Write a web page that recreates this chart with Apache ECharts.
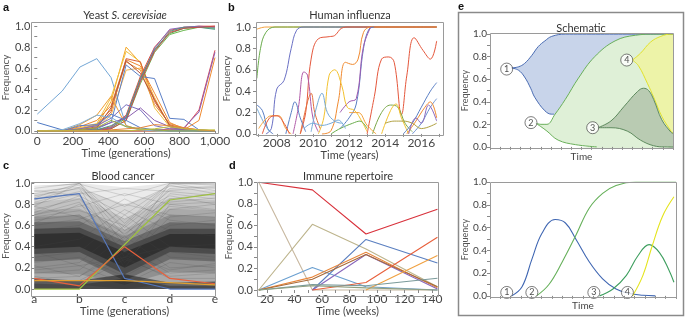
<!DOCTYPE html>
<html>
<head>
<meta charset="utf-8">
<script src="https://cdn.jsdelivr.net/npm/echarts@6/dist/echarts.min.js"></script>
<style>
html,body{margin:0;padding:0;background:#fff}
#main{width:685px;height:318px}
</style>
</head>
<body>
<div id="main"></div>
<script>
// ---- a: yeast ----
const yeastGens = [0, 140, 240, 335, 415, 500, 580, 660, 745, 825, 910, 1000];
const yeastFreqs = [
  [0.16,0.38,0.61,0.69,0.51,0.05,0.01,0,0,0,0,0],
  [0.08,0.01,0,0,0,0,0,0,0,0,0,0],
  [0,0,0.02,0.05,0.28,0.8,0.65,0.3,0.05,0.01,0,0],
  [0,0,0.03,0.07,0.32,0.76,0.66,0.22,0.04,0.02,0,0],
  [0,0,0.04,0.1,0.24,0.68,0.62,0.36,0.08,0.02,0.01,0],
  [0,0,0.01,0.04,0.18,0.69,0.66,0.28,0.06,0.02,0,0],
  [0,0,0,0.03,0.15,0.58,0.6,0.32,0.04,0.01,0,0],
  [0,0,0.02,0.06,0.2,0.66,0.58,0.25,0.07,0.03,0.01,0],
  [0,0,0,0.02,0.08,0.63,0.52,0.5,0.12,0.11,0.01,0],
  [0,0,0.01,0.03,0.22,0.67,0.55,0.3,0.05,0.01,0,0],
  [0,0,0,0.01,0.03,0.12,0.5,0.78,0.93,0.98,0.99,0.98],
  [0,0,0,0,0.02,0.1,0.45,0.75,0.92,0.96,0.99,0.99],
  [0,0,0,0.01,0.04,0.15,0.52,0.8,0.96,0.99,1.0,1.0],
  [0,0,0,0,0.03,0.14,0.48,0.79,0.97,0.99,1.0,0.99],
  [0,0,0,0.01,0.05,0.13,0.5,0.77,0.95,0.99,0.99,0.97],
  [0,0,0,0,0.02,0.1,0.47,0.76,0.94,0.98,0.99,1.0],
  [0,0,0,0,0,0,0,0,0.02,0.02,0.2,0.77],
  [0,0,0,0,0,0,0,0.01,0.01,0.03,0.18,0.75],
  [0,0,0,0,0,0,0,0,0.01,0.01,0.1,0.7],
  [0,0,0.06,0.15,0.33,0.05,0.01,0,0,0,0,0],
  [0,0,0.02,0.05,0.12,0.25,0.2,0.05,0.02,0.01,0,0],
  [0,0,0,0.03,0.08,0.12,0.22,0.1,0.04,0.01,0,0],
  [0,0.01,0.07,0.15,0.13,0.04,0.01,0,0,0,0,0],
  [0,0,0.05,0.06,0.16,0.1,0.03,0.01,0,0,0,0],
  [0,0,0.01,0.03,0.1,0.04,0.02,0.01,0,0,0,0],
  [0,0,0,0,0.01,0.02,0.03,0.06,0.05,0.03,0.01,0],
  [0,0,0,0,0,0,0.01,0.02,0.04,0.02,0.01,0.01]
];
const yeastColors = ['#74a7d6','#4e79c4','#f5a623','#f0c040','#f08a30','#d9603b','#f7b54a','#e8923a',
  '#5b7fc7','#b5533c','#5aaa4a','#6ab84f','#e05040','#8866bb','#4e9a8a','#c94a4a','#d94a5a','#9060b0',
  '#f08a30','#f0a030','#7a6fc0','#8a5fb0','#7fb0d8','#5b7fc7','#9ab040','#e8863a','#c0c040'];

// ---- b: influenza ----
const fluLines = [
  [[2006.9,0.98],[2007.4,1],[2016.85,1]],
  [[2006.9,0.52],[2007.1,0.8],[2007.4,0.95],[2007.9,1],[2016.85,1]],
  [[2007.4,0],[2007.7,0.05],[2008,0.42],[2008.4,0.5],[2008.8,0.8],[2009.1,0.97],[2009.5,1],[2016.85,1]],
  [[2009.3,0],[2009.6,0.2],[2009.9,0.7],[2010.3,0.89],[2010.9,0.91],[2011.2,0.92],[2011.6,0.99],[2012,1],[2016.85,1]],
  [[2010.5,0],[2011,0.03],[2011.4,0.3],[2011.8,0.67],[2012.2,0.65],[2012.5,0.7],[2012.8,0.95],[2013.2,1],[2016.85,1]],
  [[2011.5,0.05],[2012,0.15],[2012.4,0.28],[2012.8,0.8],[2013.1,0.98],[2013.4,1]],
  [[2011.5,0.2],[2012,0.3],[2012.4,0.33],[2012.8,0.82],[2013.2,1]],
  [[2010.3,0],[2010.6,0.15],[2010.9,0.55],[2011.2,0.6],[2011.6,0.45],[2011.9,0.25],[2012.3,0.22],[2012.7,0.12],[2013,0.02]],
  [[2013,0],[2013.4,0.35],[2013.8,0.7],[2014.2,0.72],[2014.5,0.67],[2014.9,0.18],[2015.2,0.55],[2015.6,0.9],[2016.1,0.78],[2016.5,0.7],[2016.85,0.87]],
  [[2008.9,0],[2009.2,0.25],[2009.5,0.58],[2009.7,0.55],[2010,0.15],[2010.3,0.02]],
  [[2009.3,0],[2009.7,0.3],[2009.9,0.38],[2010.1,0.2],[2010.4,0.05]],
  [[2009.9,0.02],[2010.2,0.25],[2010.5,0.38],[2010.8,0.2],[2011.2,0.12],[2011.6,0.1]],
  [[2008.5,0],[2008.8,0.2],[2009,0.3],[2009.3,0.15],[2009.6,0.02]],
  [[2006.9,0.27],[2007.2,0.22],[2007.5,0.05],[2007.8,0]],
  [[2006.9,0.24],[2007.3,0.1],[2007.6,0.02]],
  [[2007,0.05],[2007.3,0.12],[2007.7,0.17],[2008.1,0.17],[2008.5,0.05],[2008.8,0]],
  [[2007.2,0],[2007.6,0.15],[2008,0.17],[2008.4,0.1],[2008.7,0]],
  [[2013.3,0],[2013.8,0.2],[2014.3,0.27],[2014.7,0.25],[2015.1,0.1],[2015.5,0.02]],
  [[2013.8,0],[2014.3,0.22],[2014.6,0.28],[2014.9,0.15],[2015.3,0]],
  [[2015,0],[2015.5,0.1],[2016,0.25],[2016.5,0.4],[2016.85,0.48]],
  [[2015.5,0],[2016,0.1],[2016.5,0.25],[2016.85,0.33]],
  [[2015.2,0],[2015.7,0.12],[2016.2,0.25],[2016.5,0.3],[2016.85,0.15]],
  [[2015.3,0],[2015.7,0.15],[2016,0.1],[2016.4,0.27],[2016.85,0.12]],
  [[2011,0],[2011.5,0.05],[2012.2,0.1],[2012.6,0.12],[2013,0.05]],
  [[2012,0.2],[2012.5,0.2],[2013,0.08],[2013.5,0]],
  [[2009.5,0.05],[2010,0.1],[2010.5,0.08],[2011,0.1],[2011.4,0.13],[2011.8,0.05]],
  [[2014,0.1],[2014.5,0.12],[2015,0.12],[2015.5,0.1],[2016,0.05],[2016.85,0.1]]
];
const fluColors = ['#f3a03a','#6aac4c','#6a70c4','#e4573c','#f08a30','#5a7fc4','#a05ab0','#f2c230',
  '#e4573c','#b05aa8','#e4703c','#74a9d8','#5a7fc4','#5a7fc4','#74a9d8','#f3a03a','#e4573c','#7aa84a',
  '#f2c230','#5a7fc4','#6a8fd0','#f08a30','#8e6bbd','#6aac4c','#f3a03a','#74a9d8','#b0a040'];

// ---- c: blood cancer ----
const cancerTimes = ['a','b','c','d','e'];
const cancerClones = [
  [0.85,0.9,0.1,0.0,0.0],
  [0.0,0.0,0.42,0.84,0.9],
  [0.1,0.03,0.4,0.1,0.05],
  [0.08,0.08,0.08,0.06,0.04]
];
const cancerColors = ['#5577bb','#9ec040','#e8603c','#e0a030'];
// density bands of the grey clone cloud: [low, high, opacity]
const cloudBand1 = [[0,0,0,0,0],               [0.96,1.0,0.96,1.0,1.0],    0.08];
const cloudBand2 = [[0,0,0,0,0],               [0.9,0.95,0.8,0.95,0.93],   0.08];
const cloudBand3 = [[0,0,0,0,0],               [0.82,0.86,0.66,0.86,0.84], 0.1];
const cloudBand4 = [[0.05,0.04,0,0.05,0.05],   [0.74,0.76,0.56,0.76,0.74], 0.12];
const cloudBand5 = [[0.15,0.14,0.04,0.16,0.15],[0.68,0.7,0.5,0.7,0.68],    0.15];
const cloudBand6 = [[0.26,0.28,0.08,0.28,0.26],[0.63,0.64,0.45,0.63,0.62], 0.25];
const cloudBand7 = [[0.33,0.35,0.14,0.35,0.33],[0.57,0.58,0.4,0.57,0.57],  0.3];
const cloudBand8 = [[0.38,0.4,0.2,0.4,0.38],   [0.52,0.53,0.35,0.52,0.52], 0.35];
const cloudBand9 = [[0,0,0,0,0],               [0.1,0.08,0.14,0.06,0.07],  0.45];
const cloudBand10 = [[0,0,0,0,0],              [0.05,0.04,0.1,0.03,0.03],  0.3];
const cloudLines = [
  [0.95,1.0,0.62,1.0,0.98],[0.9,0.98,0.5,0.95,0.97],[0.82,0.92,0.7,0.99,1.0],[0.75,0.85,0.45,0.9,0.85],
  [0.7,0.78,0.9,0.8,0.75],[0.65,0.7,0.35,0.75,0.8],[0.6,0.66,0.8,0.7,0.68],[0.88,0.95,0.3,0.6,0.65],
  [0.78,1.0,0.55,0.85,0.9],[0.2,0.25,0.6,0.3,0.28],[0.15,0.18,0.5,0.2,0.22],[0.25,0.3,0.12,0.35,0.3],
  [0.18,0.22,0.05,0.25,0.2],[0.8,0.9,0.95,0.92,0.88],[0.55,0.6,0.85,0.65,0.6],[0.92,0.96,0.78,0.97,0.95],
  [0.7,0.82,0.25,0.68,0.72],[0.3,0.35,0.7,0.4,0.35],[0.1,0.12,0.4,0.15,0.18],[0.05,0.08,0.3,0.1,0.1],
  [0.86,1.0,0.4,1.0,0.93],[0.68,0.74,0.6,0.98,0.9],[0.93,0.88,0.2,0.8,0.82],[0.4,0.47,0.75,0.55,0.5],
  [0.97,0.99,0.88,1.0,0.99],[0.84,0.96,0.58,0.93,0.96],[0.72,0.88,0.66,0.88,0.8],[0.62,0.8,0.52,0.82,0.86],
  [0.22,0.12,0.35,0.18,0.24],[0.12,0.05,0.28,0.12,0.15],[0.35,0.22,0.3,0.4,0.42],[0.78,0.68,0.48,0.78,0.74]
];

// ---- d: immune repertoire ----
const immuneWeeks = [14, 53, 92, 144];
const immuneFreqs = [
  [1.0,0.93,0.52,0.75],
  [1.0,0.0,0.0,0.0],
  [0,0.61,0.38,0.03],
  [0,0.21,0.03,0.0],
  [null,0,0.47,0.25],
  [0,0.12,0.35,0.02],
  [null,0,0.33,0.01],
  [0,0.1,0.33,0.03],
  [null,0,0.07,0.49],
  [null,null,0,0.32],
  [0,0.05,0.04,0.11],
  [0,0.04,0.02,0.0]
];
const immuneColors = ['#d8303a','#c8b8a0','#bdb48c','#6a9fd0','#5a7fc0','#e8863a','#8866bb','#a86a3a',
  '#e8603c','#f0a040','#7a9a9a','#90a080'];

// ---- e: schematic (time in 0..18) ----
const schemBlueTopX = [2.1, 2.8, 3.4, 4.1, 4.75, 5.4, 6.07, 7.4, 18];
const schemBlueTop  = [0.7, 0.71, 0.74, 0.81, 0.89, 0.94, 0.98, 1.0, 1.0];
const schemBlueLowX = [2.1, 2.8, 3.4, 4.0, 4.4, 5.4, 6.07, 6.3];
const schemBlueLow  = [0.7, 0.68, 0.62, 0.52, 0.44, 0.32, 0.29, 0.29];
const schemGreenTopX = [4.5, 5.0, 5.6, 6.4, 7.4, 8.7, 10.3, 12.3, 14.3, 16.3, 18];
const schemGreenTop  = [0.21, 0.2, 0.2, 0.29, 0.42, 0.61, 0.8, 0.94, 0.99, 1.0, 1.0];
const schemGreenLowX = [4.5, 5.0, 5.6, 6.7, 8.4, 10.5];
const schemGreenLow  = [0.21, 0.18, 0.14, 0.06, 0.02, 0.0];
const schemDarkTopX = [10.6, 11.9, 13.2, 14.5, 15.1, 15.6, 16.1, 16.9, 17.8, 18];
const schemDarkTop  = [0.17, 0.23, 0.36, 0.49, 0.52, 0.5, 0.42, 0.24, 0.13, 0.12];
const schemDarkLowX = [10.6, 11.9, 13.5, 14.8, 16.1, 17.2, 18];
const schemDarkLow  = [0.17, 0.17, 0.14, 0.06, 0.01, 0.0, 0.0];
const schemYellowTopX = [14, 14.8, 15.8, 16.8, 17.8, 18];
const schemYellowTop  = [0.77, 0.83, 0.93, 0.98, 1.0, 1.0];
const schemYellowLowX = [14, 14.6, 15.5, 16.1, 16.9, 17.8, 18];
const schemYellowLow  = [0.77, 0.72, 0.56, 0.44, 0.27, 0.14, 0.12];
const schemNodes = [[1.64,0.69,'1'],[4.03,0.215,'2'],[10.1,0.17,'3'],[13.45,0.77,'4']];

const clone1X = [2.1, 3.1, 4.05, 5.03, 6.3, 7.3, 8.3, 9.6, 10.9, 12.2, 13.5, 14.8, 16];
const clone1  = [0, 0.08, 0.32, 0.55, 0.67, 0.64, 0.5, 0.3, 0.15, 0.06, 0.02, 0.005, 0];
const clone2X = [4.5, 5.7, 7.0, 8.3, 9.6, 10.9, 12.2, 14.1, 16, 18];
const clone2  = [0, 0.1, 0.3, 0.53, 0.77, 0.9, 0.97, 1.0, 1.0, 1.0];
const clone3X = [10.6, 11.9, 13.2, 14.3, 15.4, 16.4, 17.3, 17.8];
const clone3  = [0, 0.06, 0.18, 0.35, 0.45, 0.38, 0.23, 0.12];
const clone4X = [13.8, 14.8, 15.7, 16.7, 17.8];
const clone4  = [0, 0.18, 0.44, 0.7, 0.87];
const freqNodes = [[1.62,0.03,'1'],[4.05,0.03,'2'],[10.05,0.03,'3'],[13.3,0.03,'4']];

const freqTicks = [0, 0.2, 0.4, 0.6, 0.8, 1.0];
const freqMinor = [0,0.1,0.2,0.3,0.4,0.5,0.6,0.7,0.8,0.9,1.0];

// ---- layout ----
const FONT = 'Lato';
const SMOOTH = 0.4;
const boxes = [
  [31, 22, 187, 111],   // a
  [256, 22, 187, 113],  // b
  [31, 182, 184, 114],  // c
  [257, 182, 181, 114], // d
  [490, 33, 183, 115],  // e top
  [490, 182, 186, 115]  // e bottom
];

function zip(xs, ys) {
  const out = [];
  ys.forEach((v, i) => { if (v !== null) out.push([xs[i], v]); });
  return out;
}
function line(gi, data, color, width, extra) {
  return Object.assign({
    type: 'line', xAxisIndex: gi, yAxisIndex: gi, data: data,
    symbol: 'none', silent: true, animation: false,
    lineStyle: { color: color, width: width }
  }, extra || {});
}
function fillUnder(gi, xs, ys, color) {
  return line(gi, zip(xs, ys), color, 0, {
    smooth: SMOOTH,
    lineStyle: { width: 0, opacity: 0 },
    areaStyle: { color: color, opacity: 1, origin: 'start' }
  });
}
function freqAxis(gi, min, max, fs, margin, nameGap) {
  return {
    type: 'value', gridIndex: gi, min: min, max: max, z: 10,
    name: 'Frequency', nameLocation: 'middle', nameGap: nameGap,
    nameTextStyle: { fontSize: fs, color: '#555', fontFamily: FONT },
    axisLine: { show: false },
    axisTick: { show: true, length: 3, customValues: freqMinor, lineStyle: { color: '#888' } },
    axisLabel: { customValues: freqTicks, formatter: v => v.toFixed(1), fontSize: fs + 1, color: '#444', margin: margin, fontFamily: FONT },
    splitLine: { show: false }
  };
}
function timeAxis(gi, min, max, ticks, labels, fmt, name, nameGap, fs) {
  return {
    type: 'value', gridIndex: gi, min: min, max: max, z: 10,
    name: name, nameLocation: 'middle', nameGap: nameGap,
    nameTextStyle: { fontSize: fs, color: '#444', fontFamily: FONT },
    axisLine: { show: false },
    axisTick: { show: true, length: 3, customValues: ticks, lineStyle: { color: '#888' } },
    axisLabel: { show: labels.length > 0, customValues: labels, formatter: fmt, fontSize: fs + 1, color: '#444', margin: 2, fontFamily: FONT },
    splitLine: { show: false }
  };
}

const series = [];
// a
yeastFreqs.forEach((row, i) => series.push(line(0, zip(yeastGens, row), yeastColors[i], 1)));
// b
fluLines.forEach((pts, i) => series.push(line(1, pts, fluColors[i], 1, { smooth: SMOOTH })));
// c cloud bands (stacked: transparent base + filled band)
[cloudBand1, cloudBand2, cloudBand3, cloudBand4, cloudBand5, cloudBand6, cloudBand7, cloudBand8, cloudBand9, cloudBand10]
  .forEach((b, k) => {
    const key = 'cloud' + k;
    series.push(line(2, b[0], '#000', 0, { stack: key, lineStyle: { width: 0, opacity: 0 } }));
    series.push(line(2, b[1].map((v, i) => +(v - b[0][i]).toFixed(3)), '#000', 0, {
      stack: key, lineStyle: { width: 0, opacity: 0 },
      areaStyle: { color: 'rgba(0,0,0,' + b[2] + ')', opacity: 1 }
    }));
  });
cloudLines.forEach(row => series.push(line(2, row, 'rgba(70,70,70,0.3)', 0.6)));
cancerClones.forEach((row, i) => series.push(line(2, row, cancerColors[i], 1.2)));
// d
immuneFreqs.forEach((row, i) => series.push(line(3, zip(immuneWeeks, row), immuneColors[i], 1.1)));
// e top: painted regions
series.push(fillUnder(4, schemBlueTopX, schemBlueTop, '#c8d4ea'));
series.push(fillUnder(4, [1.9].concat(schemBlueLowX), [0.7].concat(schemBlueLow), '#ffffff'));
series.push(fillUnder(4, schemGreenTopX, schemGreenTop, '#dff0d7'));
series.push(fillUnder(4, [4.2].concat(schemGreenLowX), [0.21].concat(schemGreenLow), '#ffffff'));
series.push(fillUnder(4, schemYellowTopX, schemYellowTop, '#edf3a8'));
series.push(fillUnder(4, [13.7].concat(schemYellowLowX), [0.77].concat(schemYellowLow), '#dff0d7'));
series.push(fillUnder(4, schemDarkTopX, schemDarkTop, '#b9cbb2'));
series.push(fillUnder(4, [10.3].concat(schemDarkLowX), [0.17].concat(schemDarkLow), '#dff0d7'));
[[schemBlueTopX, schemBlueTop, '#4a6cb3'], [schemBlueLowX, schemBlueLow, '#4a6cb3'],
 [schemGreenTopX, schemGreenTop, '#6ab05a'], [schemGreenLowX, schemGreenLow, '#6ab05a'],
 [schemYellowTopX, schemYellowTop, '#e2e22a'], [schemYellowLowX, schemYellowLow, '#e2e22a'],
 [schemDarkTopX, schemDarkTop, '#5e8a5e'], [schemDarkLowX, schemDarkLow, '#5e8a5e']].forEach(c => {
  series.push(line(4, zip(c[0], c[1]), c[2], 1, { smooth: SMOOTH }));
});
// e bottom
[[clone1X, clone1, '#3f66b2'], [clone2X, clone2, '#66b05a'], [clone3X, clone3, '#3d9e5e'], [clone4X, clone4, '#e4e41c']]
  .forEach(c => series.push(line(5, zip(c[0], c[1]), c[2], 1.1, { smooth: SMOOTH })));
function nodeSeries(gi, nodes) {
  return {
    type: 'scatter', xAxisIndex: gi, yAxisIndex: gi, data: nodes, silent: true, animation: false, z: 5,
    symbol: 'circle', symbolSize: 12,
    itemStyle: { color: '#fff', borderColor: '#333', borderWidth: 0.8 },
    label: { show: true, position: 'inside', formatter: p => p.data[2], fontSize: 9, color: '#222', fontFamily: FONT }
  };
}
series.push(nodeSeries(4, schemNodes));
series.push(nodeSeries(5, freqNodes));

const grids = boxes.map(b => ({ left: b[0], top: b[1], width: b[2], height: b[3], show: false }));

const xAxes = [
  timeAxis(0, -17, 1017, [0,200,400,600,800,1000], [0,200,400,600,800,1000], v => v.toLocaleString('en-US'), 'Time (generations)', 10, 11),
  timeAxis(1, 2006.85, 2017.2, [2007,2008,2009,2010,2011,2012,2013,2014,2015,2016,2017], [2008,2010,2012,2014,2016], v => String(v), 'Time (years)', 12, 11),
  { type: 'category', gridIndex: 2, data: cancerTimes, boundaryGap: false, z: 10,
    name: 'Time (generations)', nameLocation: 'middle', nameGap: 12,
    nameTextStyle: { fontSize: 11, color: '#444', fontFamily: FONT },
    axisLine: { show: false }, axisTick: { show: false },
    axisLabel: { fontSize: 12, color: '#444', margin: 3, fontFamily: FONT } },
  timeAxis(3, 12.7, 144.4, [20,30,40,50,60,70,80,90,100,110,120,130,140], [20,40,60,80,100,120,140], v => String(v), 'Time (weeks)', 10, 11),
  timeAxis(4, 0, 18, [0,1,2,3,4,5,6,7,8,9,10,11,12,13,14,15,16,17,18], [], null, 'Time', 4, 10),
  timeAxis(5, 0, 18, [0,1,2,3,4,5,6,7,8,9,10,11,12,13,14,15,16,17,18], [], null, 'Time', 4, 10)
];
const yAxes = [
  freqAxis(0, -0.02, 1.04, 10, 4, 17),
  freqAxis(1, -0.01, 1.047, 10, 5, 17),
  freqAxis(2, -0.01, 1.01, 10, 4, 17),
  freqAxis(3, -0.01, 1.003, 10, 4, 17),
  freqAxis(4, -0.01, 1.01, 9, 3, 16),
  freqAxis(5, -0.01, 1.0, 9, 3, 16)
];

const graphic = [];
boxes.forEach(b => graphic.push({
  type: 'rect', shape: { x: b[0] + 0.5, y: b[1] + 0.5, width: b[2], height: b[3] },
  style: { fill: null, stroke: '#9a9a9a', lineWidth: 1 }, z: 100, silent: true
}));
graphic.push({ type: 'rect', shape: { x: 458.5, y: 12.5, width: 225, height: 303 },
  style: { fill: null, stroke: '#8a8a8a', lineWidth: 1.5 }, z: 100, silent: true });
const letters = [['a', 3, 2], ['b', 228, 2], ['c', 3, 160], ['d', 229, 160], ['e', 458, 1]];
letters.forEach(l => graphic.push({ type: 'text', x: l[1], y: l[2], z: 100, silent: true,
  style: { text: l[0], font: 'bold 11px "Liberation Sans"', fill: '#111' } }));
const titles = [
  ['{n|Yeast }{i|S. cerevisiae}', 125, 15],
  ['Human influenza', 350, 15],
  ['Blood cancer', 123, 176],
  ['Immune repertoire', 348, 176],
  ['Schematic', 581, 28]
];
titles.forEach(t => graphic.push({ type: 'text', x: t[1], y: t[2], z: 100, silent: true,
  style: { text: t[0], align: 'center', verticalAlign: 'middle', fontFamily: FONT, fontSize: 11, fill: '#333',
    rich: { n: { fontFamily: FONT, fontSize: 11, fill: '#333' }, i: { fontFamily: FONT, fontSize: 11, fontStyle: 'italic', fill: '#333' } } } }));

const chart = echarts.init(document.getElementById('main'), null, { renderer: 'canvas' });
chart.setOption({
  animation: false,
  backgroundColor: '#fff',
  grid: grids,
  xAxis: xAxes,
  yAxis: yAxes,
  series: series,
  graphic: graphic
});
</script>
</body>
</html>
